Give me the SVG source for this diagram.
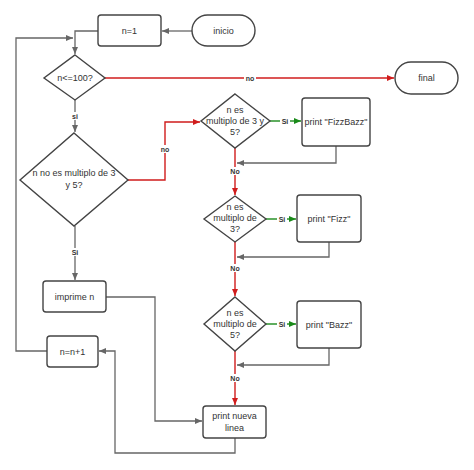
<svg xmlns="http://www.w3.org/2000/svg" width="474" height="470" viewBox="0 0 474 470">
<style>
.n{fill:#fff;stroke:#444;stroke-width:1.4}
.t{font-family:"Liberation Sans",Arial,sans-serif;font-size:9px;fill:#333;text-anchor:middle}
.l{font-family:"Liberation Sans",Arial,sans-serif;font-size:7px;font-weight:bold;fill:#333;text-anchor:middle}
.g{fill:none;stroke:#666;stroke-width:1.3}
.r{fill:none;stroke:#d01c1c;stroke-width:1.4}
.v{fill:none;stroke:#1a8a1a;stroke-width:1.4}
.lb{fill:#fff}
</style>
<defs>
<marker id="ag" markerWidth="8" markerHeight="8" refX="7" refY="4" orient="auto" markerUnits="userSpaceOnUse"><path d="M0,1 L7,4 L0,7 z" fill="#666"/></marker>
<marker id="ar" markerWidth="8" markerHeight="8" refX="7" refY="4" orient="auto" markerUnits="userSpaceOnUse"><path d="M0,1 L7,4 L0,7 z" fill="#d01c1c"/></marker>
<marker id="av" markerWidth="8" markerHeight="8" refX="7" refY="4" orient="auto" markerUnits="userSpaceOnUse"><path d="M0,1 L7,4 L0,7 z" fill="#1a8a1a"/></marker>
</defs>
<rect width="474" height="470" fill="#fff"/>
<g id="connectors">
<path class="g" d="M192,31 H162" marker-end="url(#ag)"/>
<path class="g" d="M98,31 H75 V54" marker-end="url(#ag)"/>
<path class="g" d="M47,351 H16 V38 H73" marker-end="url(#ag)"/>
<path class="r" d="M105,78 H394" marker-end="url(#ar)"/>
<path class="g" d="M75,100 V132" marker-end="url(#ag)"/>
<path class="r" d="M128,180 H165 V122 H200" marker-end="url(#ar)"/>
<path class="g" d="M75,226 V280" marker-end="url(#ag)"/>
<path class="g" d="M106,297 H155 V421 H202" marker-end="url(#ag)"/>
<path class="g" d="M235,438 V453 H115 V351 H99" marker-end="url(#ag)"/>
<path class="v" d="M270,121 H301" marker-end="url(#av)"/>
<path class="g" d="M336,146 V163 H237" marker-end="url(#ag)"/>
<path class="r" d="M235,148 V195" marker-end="url(#ar)"/>
<path class="v" d="M266,219 H296" marker-end="url(#av)"/>
<path class="g" d="M329,242 V257 H237" marker-end="url(#ag)"/>
<path class="r" d="M235,242 V296" marker-end="url(#ar)"/>
<path class="v" d="M266,324 H296" marker-end="url(#av)"/>
<path class="g" d="M329,348 V365 H237" marker-end="url(#ag)"/>
<path class="r" d="M235,351 V405" marker-end="url(#ar)"/>
<rect class="lb" x="244" y="74" width="12" height="8"/><text class="l" x="250" y="80.5">no</text>
<rect class="lb" x="70" y="112" width="10" height="8"/><text class="l" x="75" y="118.5">si</text>
<rect class="lb" x="159" y="145" width="12" height="8"/><text class="l" x="165" y="151.5">no</text>
<rect class="lb" x="69" y="248" width="12" height="8"/><text class="l" x="75" y="254.5">Si</text>
<rect class="lb" x="280" y="117" width="10" height="8"/><text class="l" x="285" y="123.5">Si</text>
<rect class="lb" x="228" y="167" width="14" height="8"/><text class="l" x="235" y="173.5">No</text>
<rect class="lb" x="277" y="215" width="10" height="8"/><text class="l" x="282" y="221.5">Si</text>
<rect class="lb" x="228" y="264" width="14" height="8"/><text class="l" x="235" y="270.5">No</text>
<rect class="lb" x="277" y="320" width="10" height="8"/><text class="l" x="282" y="326.5">Si</text>
<rect class="lb" x="228" y="374" width="14" height="8"/><text class="l" x="235" y="380.5">No</text>
</g>
<g id="inicio"><rect class="n" x="192" y="15" width="63" height="31" rx="15.5"/><text class="t" x="223.5" y="34">inicio</text></g>
<g id="n1"><rect class="n" x="98" y="15" width="63" height="31" rx="3"/><text class="t" x="129.5" y="34">n=1</text></g>
<g id="final"><rect class="n" x="395" y="62" width="63" height="32" rx="16"/><text class="t" x="426.5" y="81">final</text></g>
<g id="cond1"><path class="n" d="M75,55 L105,78 L75,100 L44,78 z"/><text class="t" x="75" y="81">n&lt;=100?</text></g>
<g id="cond2"><path class="n" d="M74,133 L128,180 L74,226 L20,180 z"/><text class="t" x="74" y="176">n no es multiplo de 3</text><text class="t" x="74" y="188">y 5?</text></g>
<g id="imprime"><rect class="n" x="43" y="281" width="63" height="31" rx="3"/><text class="t" x="74.5" y="300">imprime n</text></g>
<g id="incr"><rect class="n" x="47" y="336" width="51" height="31" rx="3"/><text class="t" x="72.5" y="354.5">n=n+1</text></g>
<g id="cond3"><path class="n" d="M235,94 L270,121 L235,148 L201,121 z"/><text class="t" x="235" y="113">n es</text><text class="t" x="235" y="124">multiplo de 3 y</text><text class="t" x="235" y="135">5?</text></g>
<g id="fizzbazz"><rect class="n" x="302" y="98" width="68" height="48" rx="3"/><text class="t" x="336" y="124.5">print "FizzBazz"</text></g>
<g id="cond4"><path class="n" d="M235,196 L266,219 L235,242 L204,219 z"/><text class="t" x="235" y="210">n es</text><text class="t" x="235" y="221">multiplo de</text><text class="t" x="235" y="232">3?</text></g>
<g id="fizz"><rect class="n" x="297" y="195" width="64" height="47" rx="3"/><text class="t" x="329" y="221.5">print "Fizz"</text></g>
<g id="cond5"><path class="n" d="M235,297 L266,324 L235,351 L204,324 z"/><text class="t" x="235" y="316">n es</text><text class="t" x="235" y="327">multiplo de</text><text class="t" x="235" y="338">5?</text></g>
<g id="bazz"><rect class="n" x="297" y="301" width="64" height="47" rx="3"/><text class="t" x="329" y="327.5">print "Bazz"</text></g>
<g id="nueva"><rect class="n" x="203" y="406" width="63" height="32" rx="3"/><text class="t" x="234.5" y="419">print nueva</text><text class="t" x="234.5" y="431">linea</text></g>
</svg>
